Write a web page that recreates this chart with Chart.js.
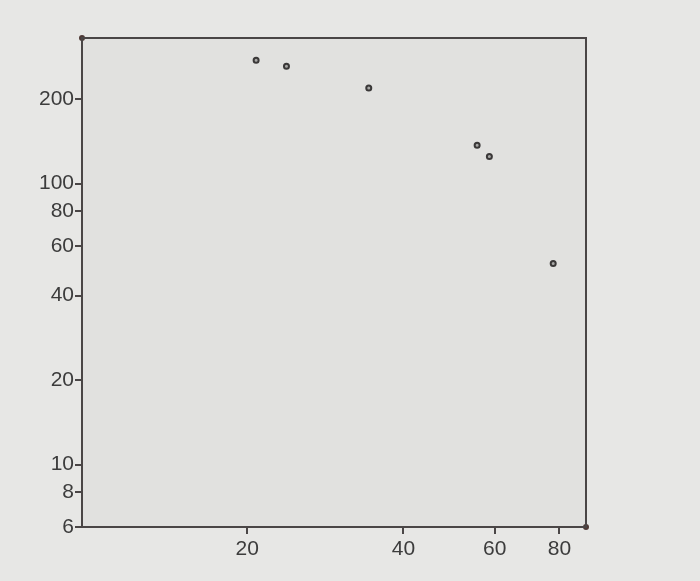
<!DOCTYPE html>
<html>
<head>
<script src="https://cdn.jsdelivr.net/npm/chart.js"></script>
<style>
  html, body { margin: 0; padding: 0; background: #e7e7e5; }
  #wrap { width: 700px; height: 581px; }
</style>
</head>
<body>
<div id="wrap"><canvas id="chart" width="700" height="581"></canvas></div>
<script>
// values (log-log)
const xValues = [20.8, 23.8, 34.3, 55.5, 58.6, 77.8];
const yValues = [275, 262, 219, 137, 125, 52];
const xTicks = [20, 40, 60, 80];
const yTicks = [6, 8, 10, 20, 40, 60, 80, 100, 200];
const xRange = [9.6, 90];
const yRange = [6, 330];
// small dots sitting on the frame corners
const cornerX = [9.6, 90];
const cornerY = [330, 6];

const ink = '#4a4646';
const labelColor = '#3c3c3c';

const frame = {
  id: 'frame',
  beforeDraw(chart) {
    const c = chart.ctx;
    c.save();
    c.fillStyle = '#e7e7e5';
    c.fillRect(0, 0, chart.width, chart.height);
    const a = chart.chartArea;
    c.fillStyle = '#e1e1df';
    c.fillRect(a.left, a.top, a.right - a.left, a.bottom - a.top);
    c.restore();
  },
  afterDatasetsDraw(chart) {
    const c = chart.ctx, a = chart.chartArea;
    c.save();
    c.strokeStyle = ink;
    c.lineWidth = 2;
    c.strokeRect(a.left, a.top, a.right - a.left, a.bottom - a.top);
    c.restore();
  }
};

new Chart(document.getElementById('chart'), {
  type: 'scatter',
  data: {
    datasets: [{
      data: xValues.map((x, i) => ({ x, y: yValues[i] })),
      pointRadius: 2.5,
      pointBorderWidth: 2,
      pointBorderColor: '#3a3838',
      pointBackgroundColor: '#a8a8a6'
    }, {
      data: cornerX.map((x, i) => ({ x, y: cornerY[i] })),
      pointRadius: 3,
      pointBorderWidth: 0,
      pointBackgroundColor: '#4e3a36',
      clip: false
    }]
  },
  options: {
    responsive: false,
    animation: false,
    layout: { padding: { top: 38, right: 114, left: 0, bottom: 0 } },
    plugins: { legend: { display: false }, tooltip: { enabled: false } },
    scales: {
      x: {
        type: 'logarithmic',
        min: xRange[0],
        max: xRange[1],
        afterBuildTicks: s => { s.ticks = xTicks.map(v => ({ value: v })); },
        afterFit: s => { s.height = 54; },
        border: { display: false },
        grid: { drawOnChartArea: false, drawTicks: true, tickLength: 7, tickColor: ink, lineWidth: 2 },
        ticks: {
          autoSkip: false, maxRotation: 0, padding: 3,
          color: labelColor,
          font: { family: 'Liberation Sans, Arial, sans-serif', size: 21 },
          callback: v => String(v)
        }
      },
      y: {
        type: 'logarithmic',
        min: yRange[0],
        max: yRange[1],
        afterBuildTicks: s => { s.ticks = yTicks.map(v => ({ value: v })); },
        afterFit: s => { s.width = 82; },
        border: { display: false },
        grid: { drawOnChartArea: false, drawTicks: true, tickLength: 7, tickColor: ink, lineWidth: 2 },
        ticks: {
          autoSkip: false, padding: 1,
          color: labelColor,
          font: { family: 'Liberation Sans, Arial, sans-serif', size: 21 },
          callback: v => String(v)
        }
      }
    }
  },
  plugins: [frame]
});
</script>
</body>
</html>
